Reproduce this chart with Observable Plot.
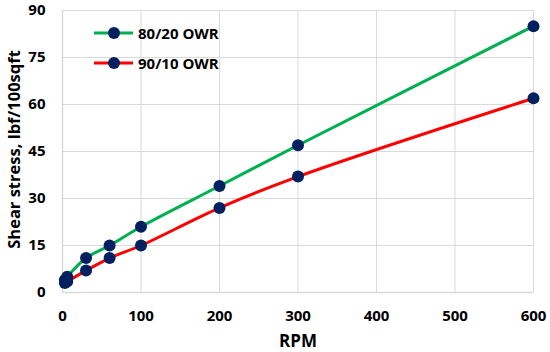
<!DOCTYPE html>
<html>
<head>
<meta charset="utf-8">
<script src="https://cdn.jsdelivr.net/npm/d3@7"></script>
<script src="https://cdn.jsdelivr.net/npm/@observablehq/plot@0.6"></script>
<style>
  html, body { margin: 0; padding: 0; background: #fff; }
  #wrap { position: relative; width: 550px; height: 352px; font-family: "Open Sans", "Liberation Sans", sans-serif; }
  #legend { position: absolute; left: 92px; top: 18px; font-weight: bold; font-size: 15px; color: #000; }
  #legend .row { display: flex; align-items: center; height: 30px; }
  #legend svg { margin-right: 3px; }
</style>
</head>
<body>
<div id="wrap"><div id="chart"></div><div id="legend"></div></div>
<script>
const rpm = [3, 6, 30, 60, 100, 200, 300, 600];
const owr8020 = [4, 5, 11, 15, 21, 34, 47, 85];
const owr9010 = [3, 3.5, 7, 11, 15, 27, 37, 62];
const seriesNames = ["80/20 OWR", "90/10 OWR"];
const lineColors = ["#00b050", "#ff0000"];
const markerColor = "#002060";
const xTicks = [0, 100, 200, 300, 400, 500, 600];
const yTicks = [0, 15, 30, 45, 60, 75, 90];
const xTitle = "RPM";
const yTitle = "Shear stress, lbf/100sqft";

const data = [];
[owr8020, owr9010].forEach((vals, si) => {
  rpm.forEach((r, i) => data.push({series: seriesNames[si], rpm: r, value: vals[i]}));
});

const chart = Plot.plot({
  width: 550,
  height: 352,
  marginLeft: 62,
  marginRight: 17,
  marginTop: 10,
  marginBottom: 60,
  style: {fontFamily: '"Open Sans", "Liberation Sans", sans-serif', fontSize: "15px", fontWeight: "bold", color: "#000", background: "#fff"},
  x: {domain: [0, 600], ticks: xTicks},
  y: {domain: [0, 90], ticks: yTicks},
  color: {domain: seriesNames, range: lineColors},
  marks: [
    Plot.gridX(xTicks, {stroke: "#d9d9d9", strokeOpacity: 1, strokeWidth: 1}),
    Plot.gridY(yTicks, {stroke: "#d9d9d9", strokeOpacity: 1, strokeWidth: 1}),
    Plot.ruleY([0], {stroke: "#d9d9d9", strokeWidth: 1.5}),
    Plot.ruleX([0], {stroke: "#d9d9d9", strokeWidth: 1.5}),
    Plot.axisX(xTicks, {tickSize: 0, tickPadding: 18, fontSize: 15, fontWeight: "bold", label: null}),
    Plot.axisY(yTicks, {tickSize: 0, tickPadding: 17, fontSize: 15, fontWeight: "bold", label: null}),
    Plot.text([xTitle], {frameAnchor: "bottom", textAnchor: "middle", lineAnchor: "middle", dy: 49, fontSize: 17, fontWeight: "bold", fill: "#000"}),
    Plot.text([yTitle], {frameAnchor: "left", textAnchor: "middle", lineAnchor: "middle", rotate: -90, dx: -48, dy: -2, fontSize: 16.5, fontWeight: "bold", fill: "#000"}),
    Plot.line(data, {x: "rpm", y: "value", z: "series", stroke: "series", strokeWidth: 3, curve: "catmull-rom"}),
    Plot.dot(data, {x: "rpm", y: "value", r: 6, fill: markerColor, stroke: "none"})
  ]
});
document.getElementById("chart").appendChild(chart);

const legend = document.getElementById("legend");
seriesNames.forEach((name, i) => {
  const row = document.createElement("div");
  row.className = "row";
  row.innerHTML = `<svg width="43" height="14"><line x1="2" y1="7" x2="41" y2="7" stroke="${lineColors[i]}" stroke-width="3"/><circle cx="22" cy="7" r="6" fill="${markerColor}"/></svg><span>${name}</span>`;
  legend.appendChild(row);
});
</script>
</body>
</html>
